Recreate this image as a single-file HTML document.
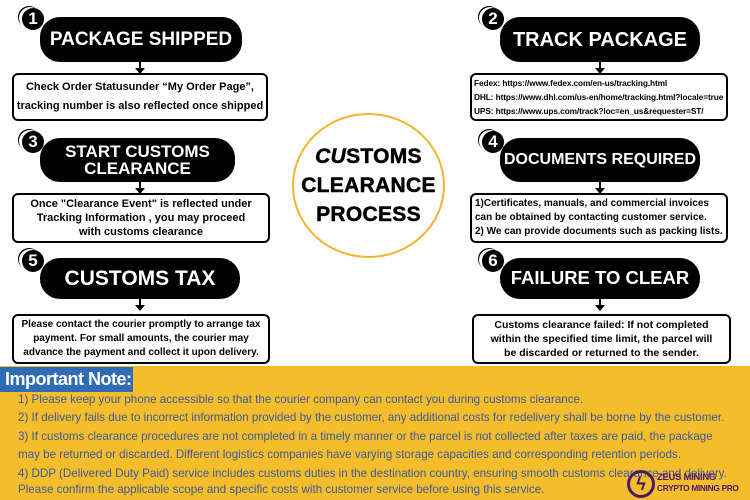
<!DOCTYPE html>
<html><head><style>
*{margin:0;padding:0;box-sizing:border-box}
body{width:750px;height:500px;position:relative;background:#fff;font-family:"Liberation Sans",Arial,sans-serif;overflow:hidden}
.h{position:absolute;background:#000;color:#fff;border-radius:20px;font-weight:bold;text-align:center;display:flex;align-items:center;justify-content:center;line-height:1}
.n{position:absolute;width:22px;height:22px;border-radius:50%;background:#000;color:#fff;font-weight:bold;font-size:17px;text-align:center;line-height:22px;box-shadow:-3px -1px 0 -0px #fff,-4px -2px 0 0 #000}
.b{position:absolute;border:2px solid #000;border-radius:6px;background:#fff;font-weight:bold;font-size:10.5px;text-align:center;display:flex;flex-direction:column;justify-content:center;line-height:15px}
.a{position:absolute;width:2px;height:8px;background:#000}
.a:after{content:"";position:absolute;left:-4px;top:6px;border-left:5px solid transparent;border-right:5px solid transparent;border-top:6px solid #000}
.note{position:absolute;left:0;top:366px;width:750px;height:134px;background:#f5bd2a}
.nt{position:absolute;left:0;top:1px;width:133px;height:25px;background:#2f6cb5;color:#fff;font-weight:bold;font-size:18px;line-height:25px;padding-left:5px;letter-spacing:-0.5px}
.l{position:absolute;left:18px;font-size:11.6px;line-height:14px;color:#3d5a9c;white-space:nowrap}
</style></head><body>

<div class="h" style="left:40px;top:17px;width:202px;height:45px;font-size:19px">PACKAGE SHIPPED</div>
<div class="n" style="left:22px;top:8px">1</div>
<div class="a" style="left:139px;top:62px"></div>
<div class="b" style="left:12px;top:73px;width:256px;height:48px;font-size:11px;line-height:19px"><div>Check Order Statusunder “My Order Page”,</div><div>tracking number is also reflected once shipped</div></div>

<div class="h" style="left:40px;top:138px;width:195px;height:44px;font-size:17px;flex-direction:column">START CUSTOMS<br>CLEARANCE</div>
<div class="n" style="left:22px;top:131px">3</div>
<div class="a" style="left:139px;top:182px"></div>
<div class="b" style="left:12px;top:193px;width:258px;height:50px;font-size:11px;line-height:14px"><div>Once "Clearance Event" is reflected under</div><div>Tracking Information , you may proceed</div><div>with customs clearance</div></div>

<div class="h" style="left:40px;top:258px;width:200px;height:41px;font-size:21px">CUSTOMS TAX</div>
<div class="n" style="left:22px;top:250px">5</div>
<div class="a" style="left:139px;top:299px"></div>
<div class="b" style="left:12px;top:314px;width:258px;height:50px;font-size:10px;line-height:14px"><div>Please contact the courier promptly to arrange tax</div><div>payment. For small amounts, the courier may</div><div>advance the payment and collect it upon delivery.</div></div>

<div class="h" style="left:500px;top:17px;width:200px;height:45px;font-size:20px">TRACK PACKAGE</div>
<div class="n" style="left:482px;top:8px">2</div>
<div class="a" style="left:599px;top:62px"></div>
<div class="b" style="left:470px;top:73px;width:258px;height:48px;font-size:8.3px;text-align:left;padding-left:2px;line-height:14px;white-space:nowrap;letter-spacing:-0.1px"><div>Fedex: <span style="font-weight:600">https://www.fedex.com/en-us/tracking.html</span></div><div>DHL: <span style="font-weight:600">https://www.dhl.com/us-en/home/tracking.html?locale=true</span></div><div>UPS: <span style="font-weight:600">https://www.ups.com/track?loc=en_us&amp;requester=ST/</span></div></div>

<div class="h" style="left:500px;top:138px;width:200px;height:44px;font-size:16px">DOCUMENTS REQUIRED</div>
<div class="n" style="left:482px;top:131px">4</div>
<div class="a" style="left:599px;top:182px"></div>
<div class="b" style="left:470px;top:193px;width:258px;height:50px;font-size:10px;text-align:left;padding-left:3px;line-height:14px;white-space:nowrap"><div>1)Certificates, manuals, and commercial invoices</div><div>can be obtained by contacting customer service.</div><div>2) We can provide documents such as packing lists.</div></div>

<div class="h" style="left:500px;top:258px;width:200px;height:41px;font-size:18.5px">FAILURE TO CLEAR</div>
<div class="n" style="left:482px;top:250px">6</div>
<div class="a" style="left:599px;top:299px"></div>
<div class="b" style="left:472px;top:314px;width:259px;height:50px;font-size:10.5px;line-height:14px"><div>Customs clearance failed: If not completed</div><div>within the specified time limit, the parcel will</div><div>be discarded or returned to the sender.</div></div>

<div style="position:absolute;left:292px;top:113px;width:153px;height:145px;border:2px solid #f3b531;border-radius:50%;display:flex;flex-direction:column;align-items:center;justify-content:center;font-weight:900;font-size:21px;line-height:29px;letter-spacing:0.3px;color:#000;text-align:center;-webkit-text-stroke:0.5px #000">
<div><i>CU</i>STOMS</div><div>CLEARANCE</div><div>PROCESS</div></div>

<div class="note">
<div class="nt">Important Note:</div>
<div class="l" style="top:27px">1) Please keep your phone accessible so that the courier company can contact you during customs clearance.</div>
<div class="l" style="top:45px">2) If delivery fails due to incorrect information provided by the customer, any additional costs for redelivery shall be borne by the customer.</div>
<div class="l" style="top:64px">3) If customs clearance procedures are not completed in a timely manner or the parcel is not collected after taxes are paid, the package</div>
<div class="l" style="top:82px">may be returned or discarded. Different logistics companies have varying storage capacities and corresponding retention periods.</div>
<div class="l" style="top:101px">4) DDP (Delivered Duty Paid) service includes customs duties in the destination country, ensuring smooth customs clearance and delivery.</div>
<div class="l" style="top:117px">Please confirm the applicable scope and specific costs with customer service before using this service.</div>
<div style="position:absolute;left:627px;top:104px;width:28px;height:28px;border:3px solid #4a1a6e;border-radius:50%;color:#4a1a6e;font-size:18px;text-align:center;line-height:22px;font-weight:bold">ϟ</div>
<div style="position:absolute;left:657px;top:106px;color:#4a1a6e;font-weight:bold;font-size:9.5px;line-height:11px;letter-spacing:-0.3px">ZEUS MINING<br><span style="font-size:8.3px">CRYPTO MINING PRO</span></div>
</div>
</body></html>
